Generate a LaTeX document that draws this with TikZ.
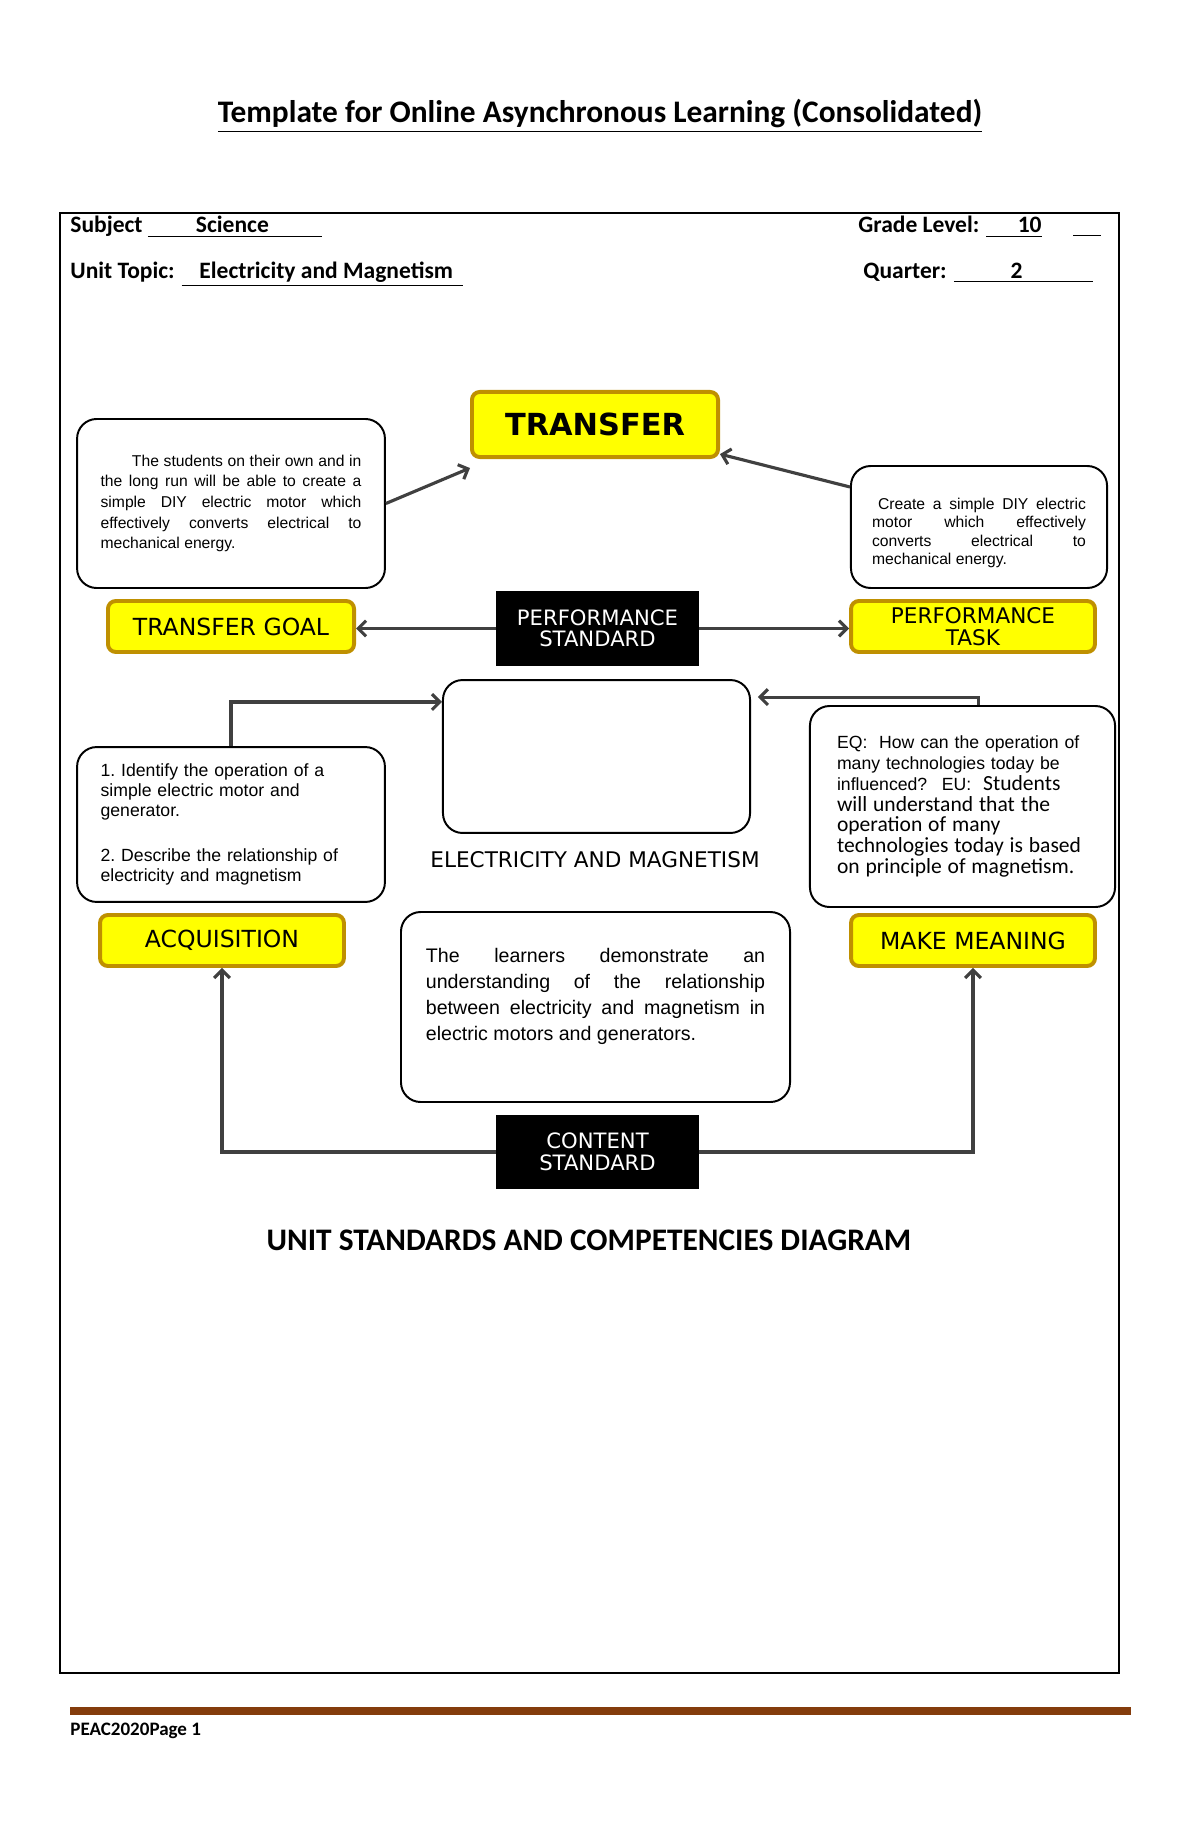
\documentclass[tikz,border=0pt]{standalone}
\usepackage{fontspec}
\setmainfont{Liberation Sans}
\newfontfamily\calibri{Carlito}
\newfontfamily\verdana{DejaVu Sans}
\usetikzlibrary{arrows.meta}
\definecolor{boxyellow}{HTML}{FFFF00}
\definecolor{boxgold}{HTML}{BF9000}
\definecolor{linkgrey}{HTML}{404040}
\definecolor{footbrown}{HTML}{843C0C}
\tikzset{
	plain box/.style={
		draw,
		fill=white,
		line width=1pt,
		rounded corners=10pt,
		inner sep=0pt
	},
	yellow box/.style={
		draw=boxgold,
		fill=boxyellow,
		line width=2pt,
		rounded corners=4pt,
		inner sep=0pt,
		align=center,
		font=\verdana\fontsize{12}{12}\selectfont
	},
	black box/.style={
		fill=black,
		text=white,
		inner sep=0pt,
		align=center,
		font=\verdana\fontsize{10.8}{11}\selectfont
	},
	link/.style={
		draw=linkgrey,
		line width=1.6pt,
		-{Straight Barb[length=4pt,width=8pt]}
	},
}

\begin{document}
\begin{tikzpicture}[x=0.51pt, y=-0.51pt]

\useasboundingbox (0,0) rectangle (1200,1835);

% page head
\node [anchor=base, inner sep=0pt, font=\calibri\bfseries\fontsize{16}{19}\selectfont] (title) at (600,123)
	{\underline{Template for Online Asynchronous Learning (Consolidated)}};
\draw [line width=1.2pt] (60,213) rectangle (1119,1673);

\node [anchor=base west, inner sep=0pt, font=\calibri\bfseries\fontsize{12}{14}\selectfont] (subject) at (70,233)
	{Subject \underline{\hspace{24.5pt}Science\hspace{27pt}}};
\node [anchor=base west, inner sep=0pt, font=\calibri\bfseries\fontsize{12}{14}\selectfont] (topic) at (70,279)
	{Unit Topic: \underline{\hspace{9pt}Electricity and Magnetism\hspace{5pt}}};
\node [anchor=base west, inner sep=0pt, font=\calibri\bfseries\fontsize{12}{14}\selectfont] (grade) at (858,233)
	{Grade Level: \underline{\hspace{16pt}10}\hspace{16pt}\underline{\hspace{14pt}}};
\node [anchor=base west, inner sep=0pt, font=\calibri\bfseries\fontsize{12}{14}\selectfont] (quarter) at (863,279)
	{Quarter: \underline{\hspace{29pt}2\hspace{36pt}}};

% transfer row
\node [yellow box, minimum width=125.5pt, minimum height=33.2pt,
	font=\verdana\bfseries\fontsize{15.5}{16}\selectfont] (transfer) at (595,424.5) {TRANSFER};

\node [plain box, minimum width=157pt, minimum height=86.2pt, text width=133pt, align=justify,
	font=\fontsize{8}{10.5}\selectfont] (goal-text) at (231,503.5)
	{\hspace*{16pt}The students on their own and in\linebreak
	the long run will be able to create a\linebreak
	simple DIY electric motor which\linebreak
	effectively converts electrical to\linebreak
	mechanical energy.};

\node [plain box, minimum width=130.6pt, minimum height=62.2pt, text width=109pt, align=justify,
	font=\fontsize{8}{9.4}\selectfont] (task-text) at (979,527)
	{\rule{0pt}{12pt}\hspace*{3pt}Create a simple DIY electric\linebreak
	motor which effectively\linebreak
	converts electrical to\linebreak
	mechanical energy.};

\node [yellow box, minimum width=125.5pt, minimum height=26pt] (goal) at (231,626.5) {TRANSFER GOAL};
\node [black box, minimum width=103.5pt, minimum height=38.3pt] (perf-std) at (597.5,628.5) {PERFORMANCE\\STANDARD};
\node [yellow box, minimum width=124.4pt, minimum height=26pt,
	font=\verdana\fontsize{11}{11}\selectfont] (perf-task) at (973,626.5) {PERFORMANCE\\TASK};

% middle row
\node [plain box, minimum width=156.6pt, minimum height=78pt] (centre) at (596.5,756.5) {};
\node [font=\verdana\fontsize{11}{13}\selectfont] (centre-label) at (595,860) {ELECTRICITY AND MAGNETISM};

\node [plain box, minimum width=157pt, minimum height=79pt, text width=133pt, align=left,
	font=\fontsize{9}{10.2}\selectfont] (acq-text) at (231,824.5)
	{1.\ Identify the operation of a\\
	simple electric motor and\\
	generator.\\[12.8pt]
	2.\ Describe the relationship of\\
	electricity and magnetism};

\node [plain box, minimum width=155.6pt, minimum height=102.5pt, text width=128pt, align=left,
	font=\fontsize{9}{10.6}\selectfont] (eq-text) at (962.5,806.5)
	{EQ:~ How can the operation of\\
	many technologies today be\\
	influenced?~ EU:~ {\calibri\fontsize{11}{10.6}\selectfont Students\\
	will understand that the\\
	operation of many\\
	technologies today is based\\
	on principle of magnetism.}};

\node [yellow box, minimum width=124.4pt, minimum height=26pt] (acq) at (222,940.5) {ACQUISITION};
\node [yellow box, minimum width=124.4pt, minimum height=26pt] (meaning) at (973,940.5) {MAKE MEANING};

% content row
\node [plain box, minimum width=198.4pt, minimum height=96.9pt, text width=173pt, align=justify,
	font=\fontsize{10}{13.3}\selectfont] (content-text) at (595.5,1007)
	{The learners demonstrate an\linebreak
	understanding of the relationship\linebreak
	between electricity and magnetism in\linebreak
	electric motors and generators.\rule[-13pt]{0pt}{0pt}};
\node [black box, minimum width=103.5pt, minimum height=37.7pt] (content-std) at (597.5,1152) {CONTENT\\STANDARD};

\node [font=\calibri\bfseries\fontsize{16}{19}\selectfont] (diagram-title) at (589,1240)
	{UNIT STANDARDS AND COMPETENCIES DIAGRAM};

% connectors
\draw [link] (goal-text.east) -- ([yshift=-4.6pt]transfer.south west);
\draw [link] ([yshift=-11.2pt]task-text.north west) -- ([yshift=2.5pt]transfer.south east);
\draw [link] (perf-std.west) -- (goal.east |- perf-std.west);
\draw [link] (perf-std.east) -- (perf-task.west |- perf-std.east);
\draw [link] (acq-text.north) |- ([yshift=-11.7pt]centre.north west);
\draw [link] ([xshift=8pt]eq-text.north) |- ([xshift=3.5pt,yshift=-9.2pt]centre.north east);
\draw [link] (content-std.west) -| (acq.south);
\draw [link] (content-std.east) -| (meaning.south);

% page foot
\draw [footbrown, line width=4pt] (70,1711) -- (1131,1711);
\node [anchor=base west, inner sep=0pt, font=\calibri\bfseries\fontsize{9.7}{11}\selectfont] (foot) at (70,1735)
	{PEAC2020Page 1};

\end{tikzpicture}
\end{document}
